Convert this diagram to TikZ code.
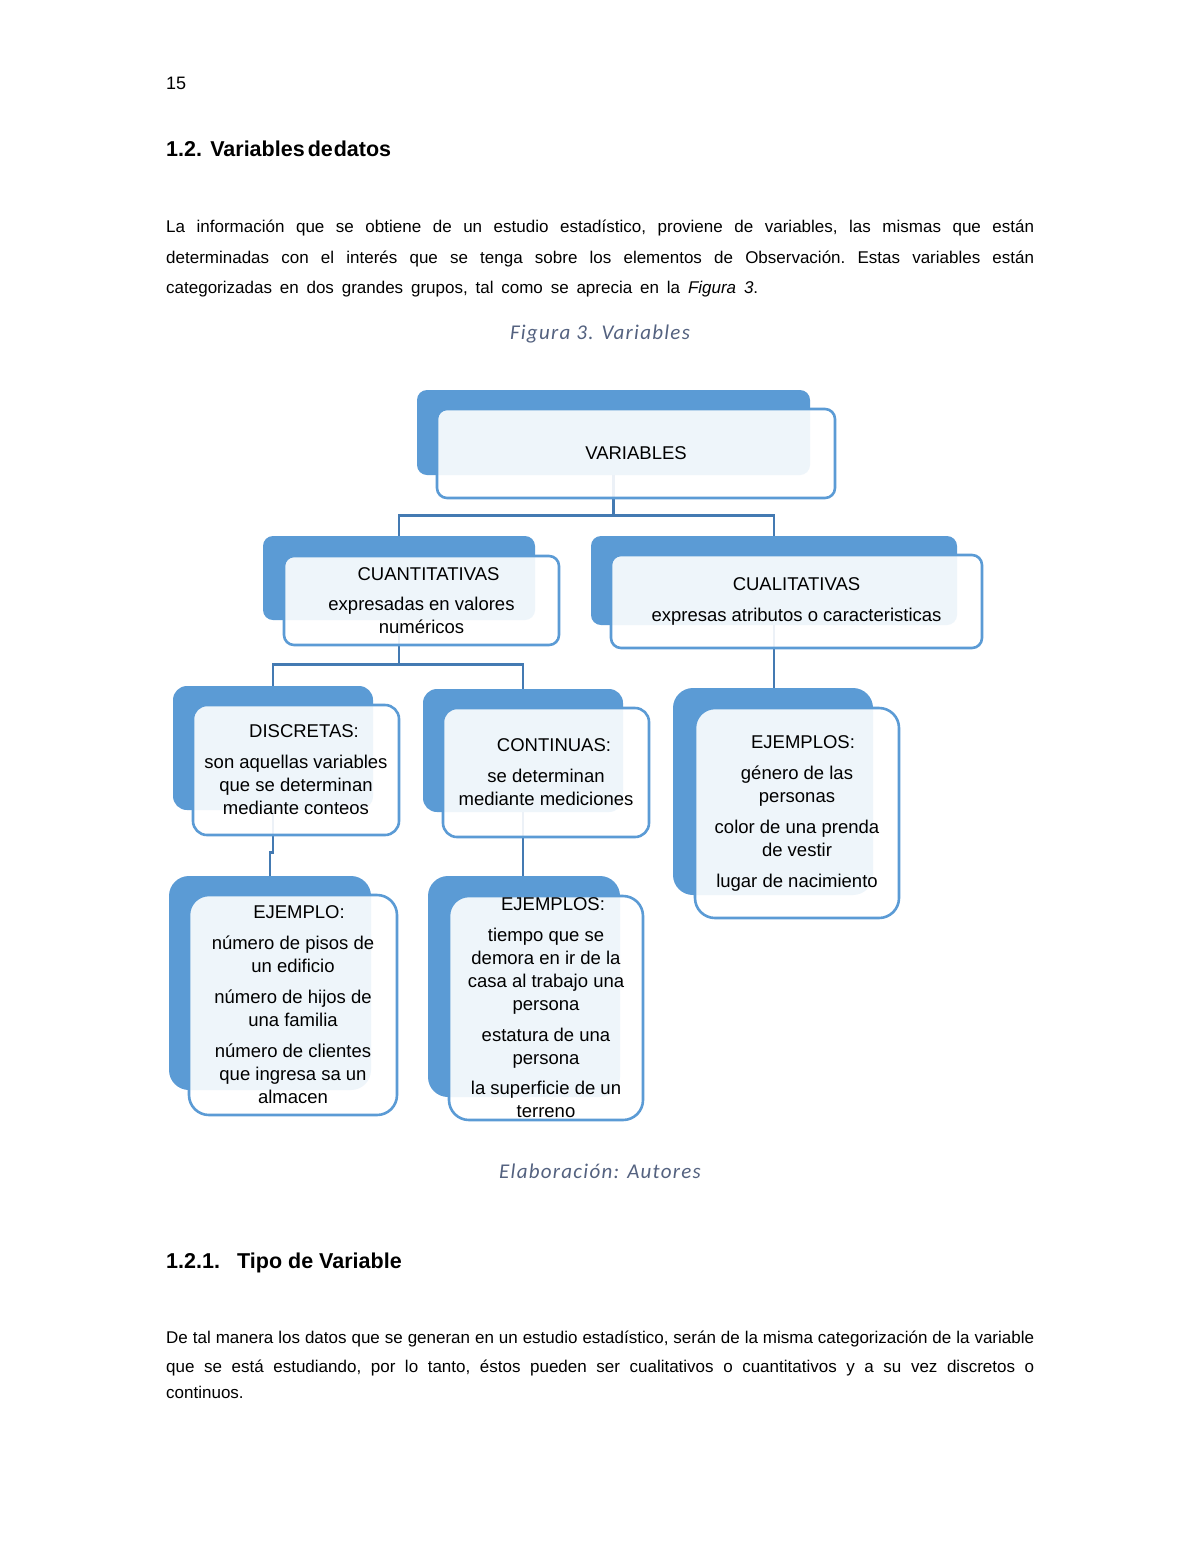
\documentclass[tikz,border=0pt]{standalone}
\usepackage{fontspec}
\setmainfont{Liberation Sans}
\newfontfamily\capfont{Carlito}[LetterSpace=6.0]
\usetikzlibrary{calc}
\definecolor{boxblue}{RGB}{91,155,213}
\definecolor{connblue}{RGB}{68,122,178}
\definecolor{capgray}{RGB}{84,98,128}
\newcommand{\boxfont}{\fontsize{18.5}{23}\selectfont}
\newcommand{\bodyfont}{\fontsize{17}{20}\selectfont\frenchspacing}
\newcommand{\headfont}{\fontsize{21.5}{24}\selectfont\bfseries}
\newcommand{\capstyle}{\capfont\itshape\fontsize{21}{24}\selectfont}
\newcommand{\jl}[2][868pt]{\makebox[#1][s]{\spaceskip=1.5pt plus 40pt minus 1pt #2}}
\tikzset{
  backbox/.style={rectangle, fill=boxblue, draw=none, inner sep=0pt},
  frontbox/.style={rectangle, draw=boxblue, line width=2.6pt, fill=white, fill opacity=0.9, text opacity=1, inner sep=0pt, align=center, font=\boxfont, text=black},
  conn/.style={draw=connblue, line width=2.8pt},
  bodyline/.style={anchor=base west, inner sep=0pt, font=\bodyfont},
  headline/.style={anchor=base west, inner sep=0pt, font=\headfont},
  caption/.style={anchor=base, inner sep=0pt, font=\capstyle, text=capgray}
}
\begin{document}
\begin{tikzpicture}[x=1pt,y=-1pt]
\useasboundingbox (0,0) rectangle (1200,1553);
\fill[white] (0,0) rectangle (1200,1553);

% page text
\node[bodyline, font=\fontsize{18}{20}\selectfont] (pnum) at (166,89) {15};
\node[headline] (h1) at (166,156.5) {\jl[225pt]{1.2. Variables de\hspace{1pt}datos}};
\node[bodyline] (p1a) at (166,232) {\jl{La información que se obtiene de un estudio estadístico, proviene de variables, las mismas que están}};
\node[bodyline] (p1b) at (166,263) {\jl{determinadas con el interés que se tenga sobre los elementos de Observación. Estas variables están}};
\node[bodyline] (p1c) at (166,293) {\jl[592pt]{categorizadas en dos grandes grupos, tal como se aprecia en la \textit{Figura 3}.}};
\node[caption] (cap1) at (600,339) {Figura 3. Variables};

% back boxes
\node[backbox, rounded corners=10pt, minimum width=393pt, minimum height=85pt] (varB) at (613.5,432.5) {};
\node[backbox, rounded corners=10pt, minimum width=272pt, minimum height=84pt] (cuanB) at (399,578) {};
\node[backbox, rounded corners=10pt, minimum width=366pt, minimum height=89pt] (cualB) at (774,580.5) {};
\node[backbox, rounded corners=14pt, minimum width=200pt, minimum height=124pt] (discB) at (273,748) {};
\node[backbox, rounded corners=14pt, minimum width=200pt, minimum height=123pt] (contB) at (523,750.5) {};
\node[backbox, rounded corners=20pt, minimum width=200pt, minimum height=207pt] (ejrB) at (773,791.5) {};
\node[backbox, rounded corners=20pt, minimum width=202pt, minimum height=214pt] (ejlB) at (270,983) {};
\node[backbox, rounded corners=20pt, minimum width=192pt, minimum height=221pt] (ejmB) at (524,986.5) {};

% connectors
\coordinate (j1) at ($(varB.south)+(0,40)$);
\draw[conn] (varB.south) -- (j1) -| (cuanB.north);
\draw[conn] (j1) -| (cualB.north);
\coordinate (j2) at ($(cuanB.south)+(0,44)$);
\draw[conn] (cuanB.south) -- (j2) -| (discB.north);
\draw[conn] (j2) -| (contB.north);
\draw[conn] (cualB.south) -- (cualB.south |- ejrB.north);
\coordinate (j3) at ($(discB.south)+(0,42)$);
\draw[conn] (discB.south) -- (j3) -| (ejlB.north);
\draw[conn] (contB.south) -- (contB.south |- ejmB.north);

% front boxes
\node[frontbox, rounded corners=10pt, minimum width=398pt, minimum height=89pt] (varF) at (636,453.5) {VARIABLES};
\node[frontbox, rounded corners=10pt, minimum width=275pt, minimum height=89pt] (cuanF) at (421.5,600.5) {\hspace*{14pt}CUANTITATIVAS\\[7pt]expresadas en valores\\numéricos};
\node[frontbox, rounded corners=10pt, minimum width=371pt, minimum height=93pt] (cualF) at (796.5,601.5) {CUALITATIVAS\\[8pt]expresas atributos o caracteristicas};
\node[frontbox, rounded corners=14pt, minimum width=206pt, minimum height=130pt] (discF) at (296,770) {\hspace*{16pt}DISCRETAS:\\[8pt]son aquellas variables\\que se determinan\\mediante conteos};
\node[frontbox, rounded corners=14pt, minimum width=206pt, minimum height=129pt] (contF) at (546,772.5) {\hspace*{16pt}CONTINUAS:\\[8pt]se determinan\\mediante mediciones};
\node[frontbox, rounded corners=20pt, minimum width=204pt, minimum height=210pt] (ejrF) at (797,813) {\hspace*{12pt}EJEMPLOS:\\[8pt]género de las\\personas\\[8pt]color de una prenda\\de vestir\\[8pt]lugar de nacimiento};
\node[frontbox, rounded corners=20pt, minimum width=208pt, minimum height=220pt] (ejlF) at (293,1005) {\hspace*{12pt}EJEMPLO:\\[8pt]número de pisos de\\un edificio\\[8pt]número de hijos de\\una familia\\[8pt]número de clientes\\que ingresa sa un\\almacen};
\node[frontbox, rounded corners=20pt, minimum width=194pt, minimum height=224pt] (ejmF) at (546,1008) {\hspace*{14pt}EJEMPLOS:\\[8pt]tiempo que se\\demora en ir de la\\casa al trabajo una\\persona\\[8pt]estatura de una\\persona\\[7pt]la superficie de un\\terreno};

% bottom text
\node[caption] (cap2) at (600,1178) {Elaboración: Autores};
\node[headline] (h2a) at (166,1268) {1.2.1.};
\node[headline] (h2b) at (237,1268) {Tipo de Variable};
\node[bodyline] (p2a) at (166,1343) {\jl{De tal manera los datos que se generan en un estudio estadístico, serán de la misma categorización de la variable}};
\node[bodyline] (p2b) at (166,1372) {\jl{que se está estudiando, por lo tanto, éstos pueden ser cualitativos o cuantitativos y a su vez discretos o}};
\node[bodyline] (p2c) at (166,1398) {continuos.};
\end{tikzpicture}
\end{document}
